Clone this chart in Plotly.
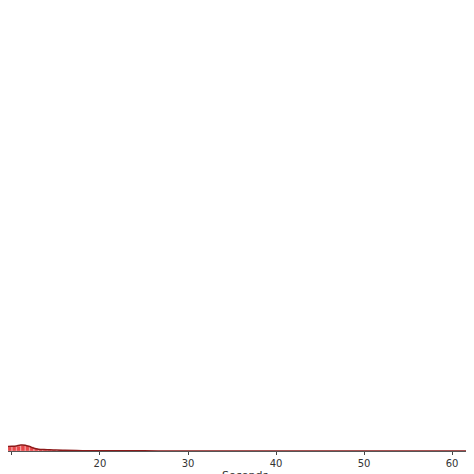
import plotly.graph_objects as go

bin_centers = [9.75, 10.25, 10.75, 11.25, 11.75, 12.25, 12.75, 13.25, 13.75, 14.25, 14.75, 15.5, 16.5, 17.5, 18.5]
bin_counts = [0.9, 1.0, 1.1, 1.3, 1.2, 0.9, 0.5, 0.35, 0.3, 0.25, 0.2, 0.15, 0.1, 0.06, 0.04]
curve_x = [9.5, 10.0, 10.5, 11.0, 11.5, 12.0, 12.5, 13.0, 14.0, 15.0, 16.0, 18.0, 20.0, 25.0, 30.0, 40.0, 50.0, 60.0, 64.0]
curve_y = [1.0, 1.05, 1.15, 1.35, 1.3, 1.0, 0.6, 0.4, 0.3, 0.2, 0.15, 0.08, 0.05, 0.03, 0.02, 0.02, 0.02, 0.02, 0.02]
x_ticks = [10, 20, 30, 40, 50, 60]

fig = go.Figure()
fig.add_trace(go.Bar(x=bin_centers, y=bin_counts, width=0.45,
                     marker=dict(color="#e8474a", line=dict(color="#f4a0a0", width=0.5))))
fig.add_trace(go.Scatter(x=curve_x, y=curve_y, mode="lines",
                         line=dict(color="#8b1a1a", width=1.5, shape="spline")))
fig.update_layout(
    width=474, height=474, showlegend=False,
    margin=dict(l=0, r=0, t=0, b=31),
    plot_bgcolor="white", paper_bgcolor="white",
    font=dict(family="DejaVu Sans", color="#333"),
    xaxis=dict(range=[9.55, 63.4], tickvals=x_ticks, ticks="outside", ticklen=3,
               showgrid=False, zeroline=False, showline=True, linecolor="#555",
               automargin=False, tickfont=dict(size=10)),
    yaxis=dict(range=[0, 100], visible=False),
    annotations=[dict(text="Seconds", x=0.5, xref="paper", y=0, yref="paper",
                      yshift=-24, yanchor="middle", showarrow=False,
                      font=dict(size=11, color="#333"))],
)
fig.write_html("out.html")
